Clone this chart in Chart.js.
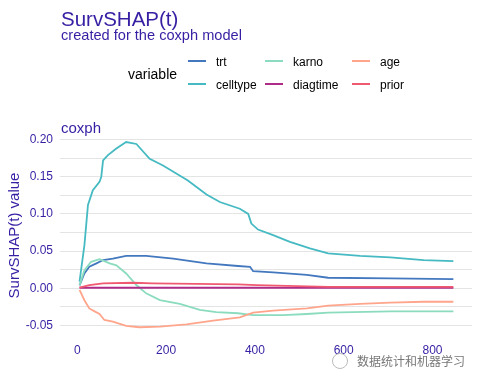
<!DOCTYPE html>
<html>
<head>
<meta charset="utf-8">
<script src="https://cdn.jsdelivr.net/npm/chart.js@4/dist/chart.umd.min.js"></script>
<style>
  body { margin: 0; background: #fff; font-family: "Liberation Sans", Arial, sans-serif; }
  #wrap { position: relative; width: 480px; height: 384px; }
  #plot { position: absolute; left: 0; top: 0; }
  .txt { position: absolute; white-space: nowrap; }
  .key { position: absolute; height: 2px; width: 18px; }
</style>
</head>
<body>
<div id="wrap">
  <canvas id="plot" width="480" height="384"></canvas>
  <div class="txt" style="left:61px; top:9px; font-size:20.5px; line-height:20.5px; color:#371ea3;">SurvSHAP(t)</div>
  <div class="txt" style="left:61px; top:28px; font-size:14.6px; line-height:14.6px; color:#371ea3;">created for the coxph model</div>
  <div class="txt" style="left:128px; top:67px; font-size:14px; line-height:14px; color:#000;">variable</div>
  <div id="legend"></div>
  <div class="txt" style="left:61px; top:120px; font-size:15px; line-height:15px; color:#371ea3;">coxph</div>
  <div class="txt" style="left:332px; top:353px; width:14px; height:14px; border:1px solid #bbb; border-radius:50%;"></div>
  <div class="txt" style="left:357px; top:355px; font-family:'Noto Sans CJK SC'; font-size:12px; line-height:12px; color:#777;">数据统计和机器学习</div>
</div>
<script>
const variables = ["trt", "celltype", "karno", "diagtime", "age", "prior"];
const colors = ["#4378bf", "#46bac2", "#8bdcbe", "#ae2c87", "#ffa58c", "#f05a71"];

const trtT = [5, 16, 27, 43, 58, 80, 110, 155, 216, 291, 362, 389, 396, 441, 517, 565, 705, 847];
const trtV = [0.004, 0.020, 0.029, 0.0335, 0.038, 0.040, 0.0437, 0.0437, 0.040, 0.0335, 0.030, 0.029, 0.023, 0.0215, 0.018, 0.0142, 0.0134, 0.0125];

const celltypeT = [5, 16, 24, 35, 50, 54, 58, 69, 88, 110, 133, 163, 193, 249, 291, 321, 366, 385, 392, 407, 441, 479, 524, 565, 637, 705, 780, 847];
const celltypeV = [0.009, 0.058, 0.112, 0.132, 0.143, 0.150, 0.172, 0.179, 0.188, 0.1966, 0.194, 0.174, 0.165, 0.145, 0.126, 0.116, 0.107, 0.100, 0.087, 0.079, 0.0715, 0.0625, 0.0536, 0.047, 0.0437, 0.0415, 0.038, 0.0366];

const karnoT = [5, 16, 31, 50, 73, 88, 110, 133, 155, 186, 231, 276, 313, 362, 396, 464, 517, 565, 705, 847];
const karnoV = [0.004, 0.0245, 0.0357, 0.0393, 0.0335, 0.031, 0.020, 0.0044, -0.0067, -0.0157, -0.021, -0.029, -0.032, -0.0335, -0.036, -0.036, -0.0345, -0.0327, -0.031, -0.031];

const diagtimeT = [5, 200, 400, 600, 847];
const diagtimeV = [0.0008, 0.0008, 0.0008, 0.0006, 0.0006];

const ageT = [5, 16, 27, 39, 50, 61, 80, 110, 140, 186, 246, 306, 366, 396, 441, 517, 565, 637, 705, 780, 847];
const ageV = [-0.002, -0.016, -0.027, -0.031, -0.0345, -0.0425, -0.0447, -0.0505, -0.0523, -0.0514, -0.0483, -0.0434, -0.039, -0.0327, -0.030, -0.0268, -0.0233, -0.021, -0.0193, -0.018, -0.018];

const priorT = [5, 27, 58, 125, 170, 362, 404, 565, 847];
const priorV = [0.001, 0.0044, 0.0067, 0.0075, 0.0067, 0.0054, 0.0044, 0.002, 0.002];

const xTicks = [0, 200, 400, 600, 800];
const yTicks = [-0.05, -0.025, 0, 0.025, 0.05, 0.075, 0.1, 0.125, 0.15, 0.175, 0.2];

const series = [
  [trtT, trtV], [celltypeT, celltypeV], [karnoT, karnoV],
  [diagtimeT, diagtimeV], [ageT, ageV], [priorT, priorV]
];

// legend, column by column like ggplot
const legend = document.getElementById("legend");
const colX = [188, 265, 352];
const rowY = [60, 83];
variables.forEach((name, i) => {
  const c = Math.floor(i / 2), r = i % 2;
  const k = document.createElement("div");
  k.className = "key";
  k.style.left = colX[c] + "px";
  k.style.top = rowY[r] + "px";
  k.style.background = colors[i];
  legend.appendChild(k);
  const t = document.createElement("div");
  t.className = "txt";
  t.style.cssText = "font-size:12px; line-height:12px; color:#000;";
  t.style.left = (colX[c] + 28) + "px";
  t.style.top = (rowY[r] - 4.5) + "px";
  t.textContent = name;
  legend.appendChild(t);
});

const datasets = series.map((s, i) => ({
  label: variables[i],
  data: s[0].map((t, j) => ({ x: t, y: s[1][j] })),
  borderColor: colors[i],
  backgroundColor: colors[i],
  borderWidth: 1.8,
  pointRadius: 0,
  tension: 0,
  order: variables.length - i
}));

new Chart(document.getElementById("plot").getContext("2d"), {
  type: "line",
  data: { datasets },
  options: {
    responsive: false,
    animation: false,
    layout: { padding: { top: 134, right: 8, bottom: 0, left: 0 } },
    plugins: { legend: { display: false }, tooltip: { enabled: false } },
    scales: {
      x: {
        type: "linear",
        min: -39,
        max: 889,
        afterBuildTicks: (scale) => { scale.ticks = xTicks.map((v) => ({ value: v })); },
        afterFit: (scale) => { scale.height = 47; },
        grid: { display: false, drawTicks: false },
        border: { display: false },
        ticks: { color: "#371ea3", font: { size: 12, family: "Liberation Sans" }, padding: 6, maxRotation: 0 }
      },
      y: {
        min: -0.0654,
        max: 0.2074,
        afterBuildTicks: (scale) => { scale.ticks = yTicks.map((v) => ({ value: v })); },
        afterFit: (scale) => { scale.width = 60; },
        grid: { color: "#e4e4e4", lineWidth: 1, drawTicks: false },
        border: { display: false },
        ticks: {
          color: "#371ea3",
          font: { size: 12, family: "Liberation Sans" },
          padding: 7,
          callback: (v) => (Math.abs(Math.round(v * 1000) % 50) === 0 ? v.toFixed(2) : "")
        },
        title: {
          display: true,
          text: "SurvSHAP(t) value",
          color: "#371ea3",
          font: { size: 15, family: "Liberation Sans" },
          padding: { top: 6, bottom: 0 }
        }
      }
    }
  }
});
</script>
</body>
</html>
